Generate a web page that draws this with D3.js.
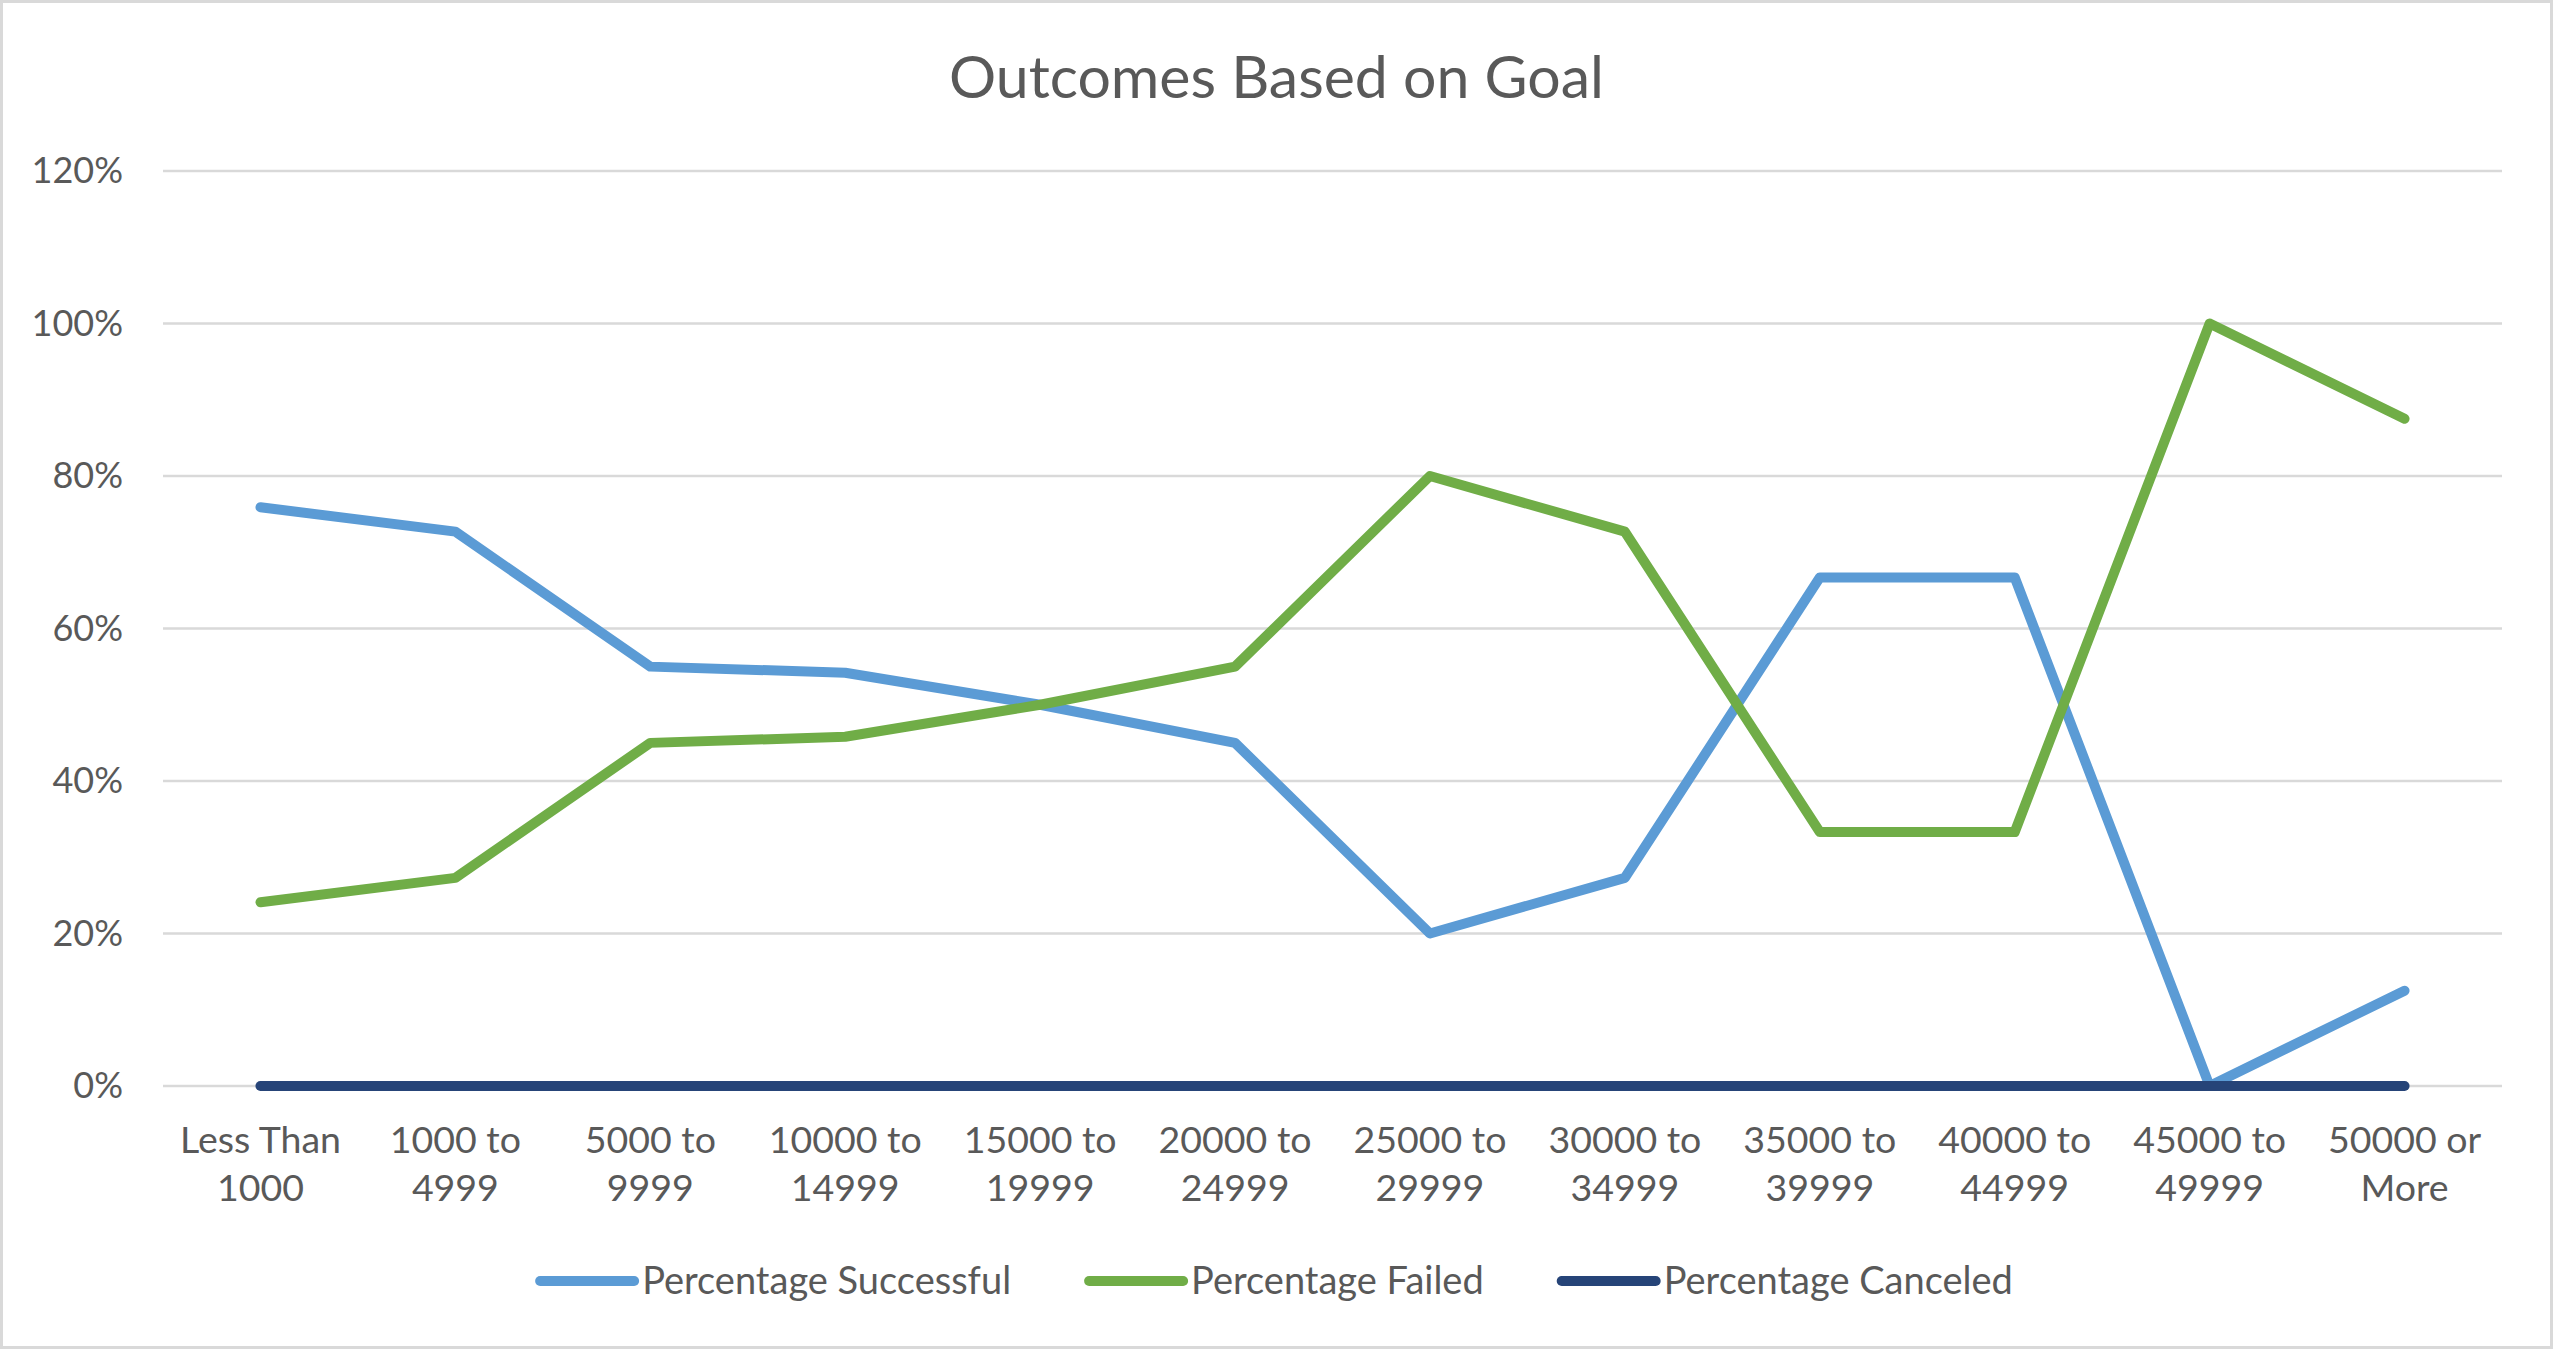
<!DOCTYPE html>
<html>
<head>
<meta charset="utf-8">
<script src="https://cdn.jsdelivr.net/npm/d3@7"></script>
<style>
  body { margin: 0; background: #fff; }
  text { font-family: Lato, "Open Sans", sans-serif; fill: #595959; }
</style>
</head>
<body>
<svg id="chart" width="2553" height="1349"></svg>
<script>
// categories (goal ranges), each label is split on two lines
let categories = ["Less Than|1000", "1000 to|4999", "5000 to|9999", "10000 to|14999",
  "15000 to|19999", "20000 to|24999", "25000 to|29999", "30000 to|34999",
  "35000 to|39999", "40000 to|44999", "45000 to|49999", "50000 or|More"];

let successful = [0.759, 0.727, 0.55, 0.542, 0.50, 0.45, 0.20, 0.273, 0.667, 0.667, 0.0, 0.125];
let failed = [0.241, 0.273, 0.45, 0.458, 0.50, 0.55, 0.80, 0.727, 0.333, 0.333, 1.0, 0.875];
let canceled = [0, 0, 0, 0, 0, 0, 0, 0, 0, 0, 0, 0];

let yTicks = [0, 0.2, 0.4, 0.6, 0.8, 1.0, 1.2];

let seriesNames = ["Percentage Successful", "Percentage Failed", "Percentage Canceled"];
let seriesColors = ["#5B9BD5", "#70AD47", "#264478"];

let width = 2553;
let height = 1349;

let svg = d3.select("#chart");

// chart border
svg.append("rect")
  .attr("x", 1.5).attr("y", 1.5)
  .attr("width", width - 3).attr("height", height - 3)
  .attr("fill", "#fff")
  .attr("stroke", "#d9d9d9")
  .attr("stroke-width", 3);

// title
svg.append("text")
  .attr("x", width / 2)
  .attr("y", 77)
  .attr("dy", "0.35em")
  .attr("text-anchor", "middle")
  .style("font-size", "59px")
  .text("Outcomes Based on Goal");

// scales
let xScale = d3.scaleBand()
  .domain(categories)
  .range([163, 2502]);

let yScale = d3.scaleLinear()
  .domain([0, 1.2])
  .range([1086, 171]);

// gridlines
svg.append("g")
  .selectAll("line")
  .data(yTicks)
  .enter()
  .append("line")
  .attr("x1", 163)
  .attr("x2", 2502)
  .attr("y1", d => yScale(d))
  .attr("y2", d => yScale(d))
  .attr("stroke", "#d9d9d9")
  .attr("stroke-width", 2.5);

// y axis labels
let yAxis = d3.axisLeft(yScale)
  .tickValues(yTicks)
  .tickFormat(d3.format(".0%"))
  .tickSize(0)
  .tickPadding(40);

let yG = svg.append("g")
  .attr("transform", "translate(163,0)")
  .call(yAxis);
yG.select(".domain").remove();
yG.selectAll("text")
  .attr("fill", "#595959")
  .style("font-family", "Lato, sans-serif")
  .style("font-size", "36px");

// x axis labels (two lines each)
let xAxis = d3.axisBottom(xScale)
  .tickSize(0)
  .tickFormat("");

let xG = svg.append("g")
  .attr("transform", "translate(0,1086)")
  .call(xAxis);
xG.select(".domain").remove();
xG.selectAll(".tick text").remove();
xG.selectAll(".tick")
  .append("text")
  .attr("text-anchor", "middle")
  .style("font-size", "37.5px")
  .selectAll("tspan")
  .data(d => d.split("|"))
  .enter()
  .append("tspan")
  .attr("x", 0)
  .attr("y", (d, i) => 54 + i * 48)
  .attr("dy", "0.35em")
  .text(d => d);

// lines
let line = d3.line()
  .x((d, i) => xScale(categories[i]) + xScale.bandwidth() / 2)
  .y(d => yScale(d));

let allSeries = [successful, failed, canceled];

svg.append("g")
  .selectAll("path")
  .data(allSeries)
  .enter()
  .append("path")
  .attr("d", d => line(d))
  .attr("fill", "none")
  .attr("stroke", (d, i) => seriesColors[i])
  .attr("stroke-width", 10)
  .attr("stroke-linejoin", "round")
  .attr("stroke-linecap", "round");

// legend
let legend = svg.append("g");
let items = legend.selectAll("g")
  .data(seriesNames)
  .enter()
  .append("g");

items.append("line")
  .attr("x1", 0).attr("x2", 94)
  .attr("y1", 0).attr("y2", 0)
  .attr("stroke", (d, i) => seriesColors[i])
  .attr("stroke-width", 10)
  .attr("stroke-linecap", "round");

items.append("text")
  .attr("x", 102)
  .attr("y", 0)
  .attr("dy", "0.35em")
  .style("font-size", "38px")
  .text(d => d);

// place legend items one after another, centred
let offsets = [];
let pos = 0;
items.each(function (d, i) {
  let w = 102 + this.querySelector("text").getComputedTextLength();
  offsets.push(pos);
  pos += w + 78;
});
let total = pos - 78;
let start = width / 2 - total / 2;
items.attr("transform", (d, i) => "translate(" + (start + offsets[i]) + ",1281)");
</script>
</body>
</html>
